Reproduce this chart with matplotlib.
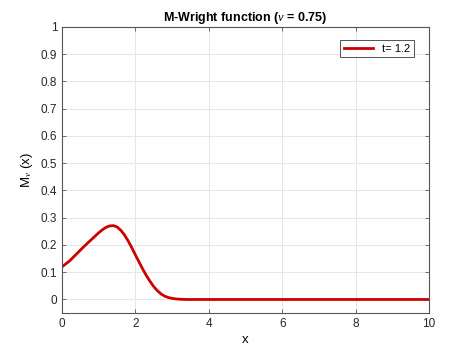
import numpy as np
import matplotlib.pyplot as plt

plt.rcParams['font.family'] = ['Liberation Sans', 'DejaVu Sans']
plt.rcParams['mathtext.fontset'] = 'custom'
plt.rcParams['mathtext.it'] = 'Liberation Serif:italic'

# values (t = 1.2)
x_vals = [0.0, 0.2, 0.4, 0.6, 0.8, 1.0, 1.1, 1.2, 1.3, 1.4, 1.5, 1.6, 1.7, 1.8, 1.9,
          2.0, 2.1, 2.2, 2.3, 2.4, 2.5, 2.6, 2.7, 2.8, 2.9, 3.0, 3.1, 3.2, 3.4,
          4.0, 6.0, 8.0, 10.0]
m_vals = [0.120, 0.141, 0.168, 0.195, 0.220, 0.245, 0.256, 0.265, 0.270, 0.271, 0.266,
          0.254, 0.237, 0.215, 0.190, 0.163, 0.137, 0.111, 0.087, 0.066, 0.047, 0.032,
          0.020, 0.012, 0.007, 0.004, 0.002, 0.001, 0.0, 0.0, 0.0, 0.0, 0.0]
legend_label = 't= 1.2'

x_ticks = [0, 2, 4, 6, 8, 10]
y_ticks = [0, 0.1, 0.2, 0.3, 0.4, 0.5, 0.6, 0.7, 0.8, 0.9, 1]
y_tick_labels = ['0', '0.1', '0.2', '0.3', '0.4', '0.5', '0.6', '0.7', '0.8', '0.9', '1']

fig = plt.figure(figsize=(4.74, 3.55), dpi=100)
ax = fig.add_axes([0.131, 0.118, 0.774, 0.806])

ax.plot(x_vals, m_vals, color='#cc0000', lw=2, label=legend_label,
        solid_joinstyle='round')

ax.set_xlim(0, 10)
ax.set_ylim(-0.05, 1)
ax.set_xticks(x_ticks)
ax.set_yticks(y_ticks)
ax.set_yticklabels(y_tick_labels)
ax.grid(True, color='#e6e6e6', lw=0.7)
ax.set_axisbelow(True)

for s in ax.spines.values():
    s.set_color('#555555')
    s.set_linewidth(0.8)
ax.tick_params(direction='in', length=3, width=0.6, colors='#555555',
               labelcolor='#262626', labelsize=8.5, top=True, right=True)

ax.set_title(r'M-Wright function ($\nu$ = 0.75)', fontsize=9, fontweight='bold', pad=4)
ax.set_xlabel('x', fontsize=9.5, labelpad=3)
ax.set_ylabel(r'M$_{\nu}$ (x)', fontsize=9.5, labelpad=4)

leg = ax.legend(loc='upper right', fontsize=8, frameon=True, fancybox=False,
                edgecolor='#262626', handlelength=2.6, borderpad=0.35,
                bbox_to_anchor=(0.975, 0.975))
leg.get_frame().set_linewidth(0.7)

fig.savefig('out.png', dpi=100)
